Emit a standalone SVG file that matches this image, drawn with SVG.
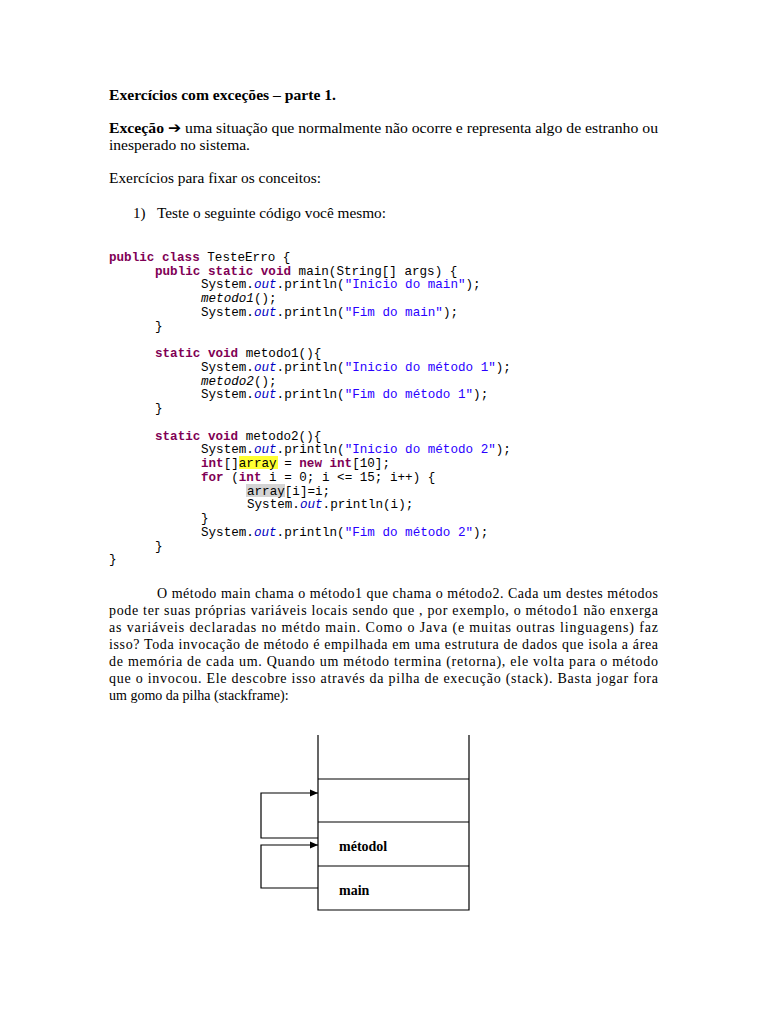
<svg xmlns="http://www.w3.org/2000/svg" width="768" height="1024" viewBox="0 0 768 1024">
<style>
.t{font-family:"Liberation Serif",serif;font-size:14px;fill:#000}
.h{font-size:15px}
.b{font-weight:bold}
.c{font-family:"Liberation Mono",monospace;font-size:12.6px;fill:#000;white-space:pre}
.k{fill:#7f0055;font-weight:bold}
.s{fill:#2a00ff}
.o{fill:#0000c0;font-style:italic}
.i{font-style:italic}
.ln{stroke:#000;stroke-width:1.2;fill:none}
</style>
<defs><marker id="ah" markerWidth="8" markerHeight="8" refX="8" refY="4" orient="auto" markerUnits="userSpaceOnUse"><path d="M0,0.5 L8,4 L0,7.5z" fill="#000"/></marker></defs>
<rect width="768" height="1024" fill="#fff"/>
<text class="t h b" x="109" y="100" textLength="227" lengthAdjust="spacingAndGlyphs">Exercícios com exceções – parte 1.</text>
<text class="t h" x="109" y="133" textLength="549" lengthAdjust="spacingAndGlyphs"><tspan class="b">Exceção</tspan> <tspan font-family="DejaVu Sans,sans-serif" font-weight="bold">➔</tspan> uma situação que normalmente não ocorre e representa algo de estranho ou</text>
<text class="t h" x="109" y="150" textLength="141" lengthAdjust="spacingAndGlyphs">inesperado no sistema.</text>
<text class="t h" x="109" y="183" textLength="212" lengthAdjust="spacingAndGlyphs">Exercícios para fixar os conceitos:</text>
<text class="t h" x="133" y="218">1)</text>
<text class="t h" x="157" y="218" textLength="229" lengthAdjust="spacingAndGlyphs">Teste o seguinte código você mesmo:</text>
<rect x="239" y="456" width="39" height="13" fill="#ffff33"/>
<rect x="246" y="484" width="39" height="13" fill="#d4d4d4"/>
<g class="c">
<text x="109" y="261"><tspan class="k">public class</tspan> TesteErro {</text>
<text x="155" y="275"><tspan class="k">public static void</tspan> main(String[] args) {</text>
<text x="201" y="288">System.<tspan class="o">out</tspan>.println(<tspan class="s">"Inicio do main"</tspan>);</text>
<text x="201" y="302" class="i">metodo1<tspan font-style="normal">();</tspan></text>
<text x="201" y="316">System.<tspan class="o">out</tspan>.println(<tspan class="s">"Fim do main"</tspan>);</text>
<text x="155" y="330">}</text>
<text x="155" y="357"><tspan class="k">static void</tspan> metodo1(){</text>
<text x="201" y="371">System.<tspan class="o">out</tspan>.println(<tspan class="s">"Inicio do método 1"</tspan>);</text>
<text x="201" y="385" class="i">metodo2<tspan font-style="normal">();</tspan></text>
<text x="201" y="398">System.<tspan class="o">out</tspan>.println(<tspan class="s">"Fim do método 1"</tspan>);</text>
<text x="155" y="412">}</text>
<text x="155" y="440"><tspan class="k">static void</tspan> metodo2(){</text>
<text x="201" y="453">System.<tspan class="o">out</tspan>.println(<tspan class="s">"Inicio do método 2"</tspan>);</text>
<text x="201" y="467"><tspan class="k">int</tspan>[]array = <tspan class="k">new int</tspan>[10];</text>
<text x="201" y="481"><tspan class="k">for</tspan> (<tspan class="k">int</tspan> i = 0; i &lt;= 15; i++) {</text>
<text x="247" y="495">array[i]=i;</text>
<text x="247" y="508">System.<tspan class="o">out</tspan>.println(i);</text>
<text x="201" y="522">}</text>
<text x="201" y="536">System.<tspan class="o">out</tspan>.println(<tspan class="s">"Fim do método 2"</tspan>);</text>
<text x="155" y="550">}</text>
<text x="109" y="563">}</text>
</g>
<g class="t">
<text x="157" y="598" textLength="501" lengthAdjust="spacing">O método main chama o método1 que chama o método2. Cada um destes métodos</text>
<text x="109" y="615" textLength="549" lengthAdjust="spacing">pode ter suas próprias variáveis locais sendo que , por exemplo, o método1 não enxerga</text>
<text x="109" y="632" textLength="549" lengthAdjust="spacing">as variáveis declaradas no métdo main. Como o Java (e muitas outras linguagens) faz</text>
<text x="109" y="649" textLength="549" lengthAdjust="spacing">isso? Toda invocação de método é empilhada em uma estrutura de dados que isola a área</text>
<text x="109" y="666" textLength="549" lengthAdjust="spacing">de memória de cada um. Quando um método termina (retorna), ele volta para o método</text>
<text x="109" y="683" textLength="549" lengthAdjust="spacing">que o invocou. Ele descobre isso através da pilha de execução (stack). Basta jogar fora</text>
<text x="109" y="700">um gomo da pilha (stackframe):</text>
</g>
<g id="stack">
<path class="ln" d="M318,735 V910 H469 V735"/>
<line class="ln" x1="318" y1="779" x2="469" y2="779"/>
</g>
<g id="frame-empty"><line class="ln" x1="318" y1="822" x2="469" y2="822"/></g>
<g id="frame-metodo1"><line class="ln" x1="318" y1="866" x2="469" y2="866"/><text class="t b" x="339" y="851">métodol</text></g>
<g id="frame-main"><text class="t b" x="339" y="895">main</text></g>
<g id="connectors">
<path class="ln" d="M318,838 H261 V793 H318" marker-end="url(#ah)"/>
<path class="ln" d="M318,888 H261 V845 H318" marker-end="url(#ah)"/>
</g>
</svg>
